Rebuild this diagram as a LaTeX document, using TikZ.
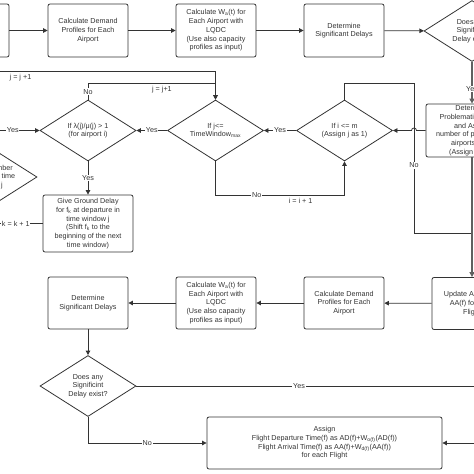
\documentclass[tikz,border=0pt]{standalone}
\usepackage{fontspec}
\setmainfont{Liberation Sans}
\usepackage{xcolor}
\usetikzlibrary{arrows.meta}
\usetikzlibrary{shapes.geometric}

\definecolor{inkgray}{HTML}{333333}

\begin{document}
\begin{tikzpicture}[x=1pt,y=-1pt,
    every node/.style={font=\fontsize{7.2}{8.7}\selectfont,text=inkgray},
    procbox/.style={draw=inkgray,line width=0.8pt,rounded corners=2pt,align=center,
      inner sep=0pt,minimum width=80pt,minimum height=53pt},
    decision/.style={draw=inkgray,line width=0.8pt,diamond,aspect=1.6,align=center,
      inner sep=0pt,minimum width=96pt,minimum height=61pt},
    flow/.style={draw=inkgray,line width=0.8pt,-{Triangle[length=4.5pt,width=4.5pt]}},
    plain/.style={draw=inkgray,line width=0.8pt},
    heavy/.style={draw=gray!75!black,line width=2.4pt,-{Triangle[length=5pt,width=5pt]}},
    tag/.style={fill=white,inner sep=0.8pt}]
    \useasboundingbox (0,0) rectangle (474,474);
    \clip (0,0) rectangle (474,474);
    %
    \node[procbox] (input) at (-31,30.5) {};
    \node[procbox] (demandA) at (88,30.5) {Calculate Demand\\Profiles for Each\\Airport};
    \node[procbox] (waitA) at (216,30.5) {Calculate W\textsubscript{a}(t) for\\Each Airport with\\LQDC\\(Use also capacity\\profiles as input)};
    \node[procbox] (delayA) at (344,30.5) {Determine\\Significant Delays};
    \node[decision] (anyA) at (472,31) {Does any\\Significint\\Delay exist?};
    \node[procbox,minimum width=92pt] (problem) at (472,130.5) {Determine\\Problematic Airports\\and Assign\\number of problematic\\airports as m\\(Assign i as 1)};
    \node[decision] (airport) at (344.5,130.5) {If i <= m\\(Assign j as 1)};
    \node[decision] (window) at (215.5,130.5) {If j<=\\TimeWindow\textsubscript{max}};
    \node[decision] (ratio) at (88,130.5) {If λ(j)/μ(j) > 1\\(for airport i)};
    \node[decision] (count) at (-11,177) {If k <= Number\\of Flights in time\\window j};
    \node[procbox,minimum width=90pt,minimum height=57pt] (ground) at (88,223.5) {Give Ground Delay\\for f\textsubscript{k} at departure in\\time window j\\(Shift f\textsubscript{k} to the\\beginning of the next\\time window)};
    %
    \node[procbox,minimum height=52pt] (update) at (472,303.5) {Update AD(f) and\\AA(f) for each\\Flight};
    \node[procbox,minimum height=52pt] (demandB) at (344,303) {Calculate Demand\\Profiles for Each\\Airport};
    \node[procbox,minimum height=52pt] (waitB) at (216,303) {Calculate W\textsubscript{a}(t) for\\Each Airport with\\LQDC\\(Use also capacity\\profiles as input)};
    \node[procbox,minimum height=52pt] (delayB) at (88,303) {Determine\\Significant Delays};
    \node[decision] (anyB) at (88,386) {Does any\\Significint\\Delay exist?};
    \node[procbox,minimum width=235pt,minimum height=52pt] (assign) at (324.5,443) {Assign\\Flight Departure Time(f) as AD(f)+W\textsubscript{o(f)}(AD(f))\\Flight Arrival Time(f) as AA(f)+W\textsubscript{d(f)}(AA(f))\\for each Flight};
    %
    \coordinate (noturn) at (414,83);
    \coordinate (nodrop) at (414,233);
    \coordinate (nojoin) at (472,233);
    \coordinate (inext) at (344.5,195);
    \coordinate (jloop) at (215.5,83);
    \coordinate (jentry) at (-80,71);
    \coordinate (yexit) at (490,386);
    \coordinate (aentry) at (490,443);
    %
    \draw[flow] (input) -- (demandA);
    \draw[flow] (demandA) -- (waitA);
    \draw[flow] (waitA) -- (delayA);
    \draw[flow] (delayA) -- (anyA);
    \draw[heavy] (anyA) -- node[tag,pos=0.65] {Yes} (problem);
    \draw[flow] (problem.west) -- (416.5,130.5) arc[start angle=0,end angle=-180,radius=2.5] -- (airport.east);
    \draw[plain] (airport.north) |- (noturn) -- node[tag,pos=0.55] {No} (nodrop) -- (nojoin);
    \draw[heavy] (problem) -- (update);
    \draw[flow] (airport) -- node[tag] {Yes} (window);
    \draw[flow] (window) -- node[tag] {Yes} (ratio);
    \draw[flow] (window.south) |- node[tag,pos=0.66] {No} node[below,pos=0.83] {i = i + 1} (inext) -- (airport.south);
    \draw[flow] (ratio.north) |- node[tag,pos=0.235] {No} node[below,pos=0.79] {j = j+1} (jloop) -- (window.north);
    \draw[flow] (jentry) -| node[below,pos=0.17] {j = j +1} (window.north);
    \draw[flow] (count.north) |- node[tag,pos=0.735] {Yes} (ratio.west);
    \draw[flow] (ratio) -- node[tag] {Yes} (ground);
    \draw[flow] (ground.west) -| node[tag,pos=0.25] {k = k + 1} (count.south);
    %
    \draw[flow] (update) -- (demandB);
    \draw[flow] (demandB) -- (waitB);
    \draw[flow] (waitB) -- (delayB);
    \draw[flow] (delayB) -- (anyB);
    \draw[plain] (anyB) -- node[tag,pos=0.46] {Yes} (yexit);
    \draw[flow] (anyB.south) |- node[tag,pos=0.75] {No} (assign.west);
    \draw[flow] (aentry) -- (assign);
\end{tikzpicture}
\end{document}
